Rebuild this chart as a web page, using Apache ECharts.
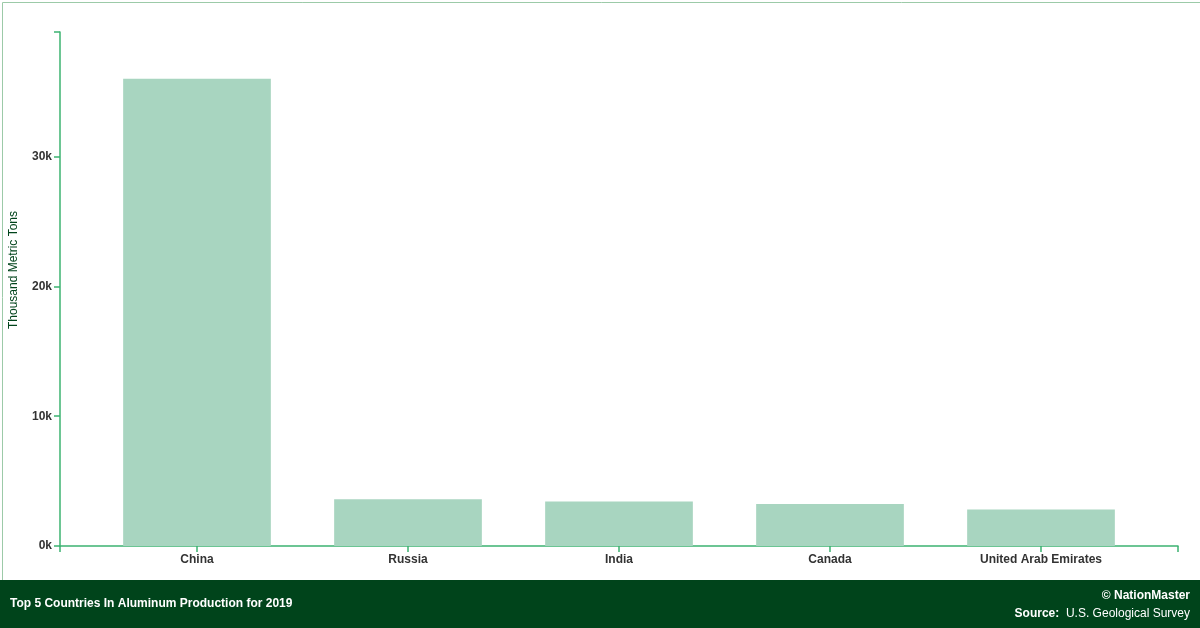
<!DOCTYPE html>
<html><head><meta charset="utf-8">
<script src="https://cdn.jsdelivr.net/npm/echarts@6/dist/echarts.min.js"></script>
<style>html,body{margin:0;padding:0;background:#fff}#c{width:1200px;height:628px}</style>
</head><body><div id="c"></div>
<script>
const categories = ['China', 'Russia', 'India', 'Canada', 'United Arab Emirates'];
const production = [36000, 3600, 3420, 3240, 2820];
const yTicks = [0, 10000, 20000, 30000];
const yMax = 39600;
const title = 'Top 5 Countries In Aluminum Production for 2019';
const yName = 'Thousand Metric Tons';

const AX = '#3cb371';
const FONT = 'Liberation Sans, Arial, sans-serif';
const chart = echarts.init(document.getElementById('c'), null, {renderer: 'canvas'});
chart.setOption({
  animation: false,
  grid: [
    {left: 60, right: 22, top: 32, bottom: 82},
    {left: 91.5, right: 53.5, top: 32, bottom: 82}
  ],
  xAxis: [
    {type: 'value', gridIndex: 0, min: 0, max: 1,
     axisLine: {show: true, lineStyle: {color: AX, width: 1.5}},
     axisTick: {show: true, customValues: [0, 1], length: 6, lineStyle: {color: AX, width: 1.5}},
     axisLabel: {show: false}, splitLine: {show: false}},
    {type: 'category', gridIndex: 1, data: categories,
     axisLine: {show: false},
     axisTick: {show: true, alignWithLabel: true, length: 6, lineStyle: {color: AX, width: 1.5}},
     axisLabel: {color: '#333', fontFamily: FONT, fontSize: 12, fontWeight: 'bold', margin: 8}}
  ],
  yAxis: [
    {type: 'value', gridIndex: 0, min: 0, max: yMax,
     axisLine: {show: true, lineStyle: {color: AX, width: 1.5}},
     axisTick: {show: true, customValues: yTicks.concat([yMax]), length: 6, lineStyle: {color: AX, width: 1.5}},
     axisLabel: {customValues: yTicks, color: '#333', fontFamily: FONT, fontSize: 12, fontWeight: 'bold', margin: 8,
       formatter: v => (v / 1000) + 'k'},
     splitLine: {show: false}},
    {type: 'value', gridIndex: 1, min: 0, max: yMax, show: false, splitLine: {show: false}}
  ],
  series: [{
    type: 'bar', xAxisIndex: 1, yAxisIndex: 1, data: production, barWidth: '70%',
    itemStyle: {color: '#a8d5c0', borderColor: '#d3ebdf', borderWidth: 0}
  }],
  graphic: [
    {type: 'rect', left: 0, top: 0, z: -1, shape: {x: 0.5, y: 0.5, width: 1199, height: 590},
     style: {fill: 'none', stroke: '#9ccaa8', lineWidth: 1}},
    {type: 'rect', left: 0, top: 580, shape: {width: 1200, height: 48}, style: {fill: '#00441b'}},
    {type: 'text', left: 10, top: 598, style: {text: title, fill: '#fff', font: 'bold 12px ' + FONT}},
    {type: 'text', right: 10, top: 590, style: {text: '© NationMaster', fill: '#fff', font: 'bold 12px ' + FONT}},
    {type: 'text', right: 10, top: 608, style: {
      text: '{b|Source:}  U.S. Geological Survey', fill: '#fff', font: '12px ' + FONT,
      rich: {b: {fill: '#fff', fontWeight: 'bold', fontSize: 12, fontFamily: FONT}}}},
    {type: 'text', x: 14, y: 270, rotation: Math.PI / 2,
     style: {text: yName, fill: '#00441b', font: '12px ' + FONT, align: 'center', verticalAlign: 'middle'}}
  ]
});
</script></body></html>
